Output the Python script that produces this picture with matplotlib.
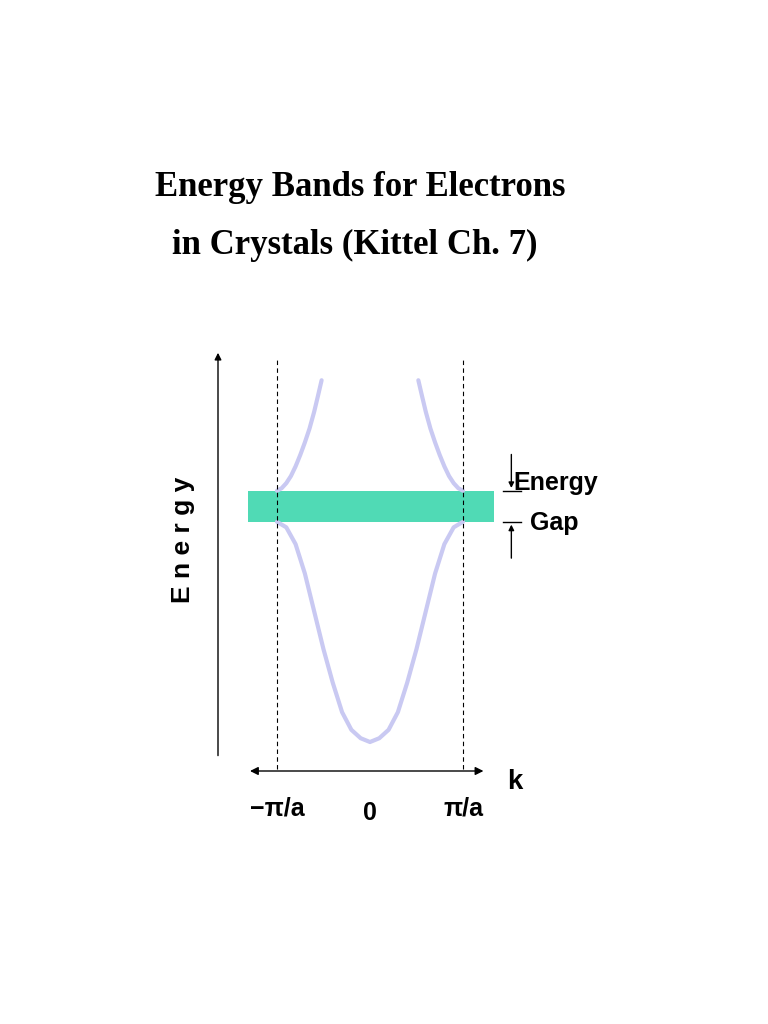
import matplotlib
matplotlib.use("Agg")
import matplotlib.pyplot as plt
import numpy as np

# data: k in units of pi/a, energy in arbitrary units
k_lower = [-1.0,-0.9,-0.8,-0.7,-0.6,-0.5,-0.4,-0.3,-0.2,-0.1,0.0,0.1,0.2,0.3,0.4,0.5,0.6,0.7,0.8,0.9,1.0]
E_lower = [5.93,5.80,5.40,4.70,3.80,2.90,2.10,1.40,0.98,0.78,0.69,0.78,0.98,1.40,2.10,2.90,3.80,4.70,5.40,5.80,5.93]
k_upper_left = [-1.0,-0.95,-0.9,-0.85,-0.8,-0.75,-0.7,-0.65,-0.6,-0.56,-0.52]
E_upper_left = [6.67,6.73,6.85,7.02,7.25,7.52,7.82,8.15,8.55,8.92,9.30]
k_upper_right = [0.52,0.56,0.6,0.65,0.7,0.75,0.8,0.85,0.9,0.95,1.0]
E_upper_right = [9.30,8.92,8.55,8.15,7.82,7.52,7.25,7.02,6.85,6.73,6.67]
gap_bottom, gap_top = 5.93, 6.67
tick_labels = ["\u2212\u03c0/a", "0", "\u03c0/a"]
tick_pos = [-1, 0, 1]

W, H = 768, 1024
fig = plt.figure(figsize=(W/100, H/100), dpi=100)
fig.patch.set_facecolor("white")

x0, x1, ytop, ybot = 218, 500, 350, 771
ax = fig.add_axes([x0/W, 1-ybot/H, (x1-x0)/W, (ybot-ytop)/H])
ax.set_xlim(-1.634, 1.398)
ax.set_ylim(0, 10.02)
ax.axis("off")

ax.fill_between([-1.31, 1.33], gap_bottom, gap_top, color="#3dd6ad", alpha=0.9, lw=0, zorder=1)
lc = "#c9c9f2"
ax.plot(k_lower, E_lower, color=lc, lw=3, zorder=2, solid_capstyle="round")
ax.plot(k_upper_left, E_upper_left, color=lc, lw=3, zorder=2, solid_capstyle="round")
ax.plot(k_upper_right, E_upper_right, color=lc, lw=3, zorder=2, solid_capstyle="round")
for kk in (-1, 1):
    ax.plot([kk, kk], [0.05, 9.8], color="black", lw=0.8, ls=(0, (4, 3)), zorder=3)
ax.annotate("", xy=(0, 1.0), xytext=(0, 0.03), xycoords="axes fraction",
            arrowprops=dict(arrowstyle="-|>", color="black", lw=1, mutation_scale=10))
ax.annotate("", xy=(1.25, 0.0), xytext=(-1.32, 0.0),
            arrowprops=dict(arrowstyle="<|-|>", color="black", lw=1, mutation_scale=12))
gx = 1.52
ax.annotate("", xy=(gx, gap_top), xytext=(gx, 7.6), annotation_clip=False,
            arrowprops=dict(arrowstyle="-|>", color="black", lw=1, mutation_scale=8))
ax.annotate("", xy=(gx, gap_bottom), xytext=(gx, 5.0), annotation_clip=False,
            arrowprops=dict(arrowstyle="-|>", color="black", lw=1, mutation_scale=8))
ax.plot([1.43, 1.62], [gap_top, gap_top], color="black", lw=1, clip_on=False)
ax.plot([1.43, 1.62], [gap_bottom, gap_bottom], color="black", lw=1, clip_on=False)

for p, lab in zip(tick_pos, tick_labels):
    ax.text(p, -0.9 if lab != "0" else -1.0, lab, ha="center", va="center",
            fontsize=18, fontweight="bold", family="Liberation Sans", clip_on=False)
ax.text(1.47, -0.25, "k", fontsize=20, fontweight="bold", family="Liberation Sans", va="center", clip_on=False)
ax.text(2.0, 6.85, "Energy", fontsize=18, fontweight="bold", family="Liberation Sans", ha="center", va="center", clip_on=False)
ax.text(1.98, 5.9, "Gap", fontsize=18, fontweight="bold", family="Liberation Sans", ha="center", va="center", clip_on=False)

fig.text(183/W, 1-540/H, "E n e r g y", rotation=90, fontsize=19, fontweight="bold",
         family="Liberation Sans", ha="center", va="center")

fig.text(360/W, 1-188/H, "Energy Bands for Electrons", fontsize=25, fontweight="bold",
         family="Liberation Serif", ha="center", va="center")
fig.text(355/W, 1-245/H, "in Crystals (Kittel Ch. 7)", fontsize=25, fontweight="bold",
         family="Liberation Serif", ha="center", va="center")

fig.savefig("out.png", dpi=100, facecolor="white")
